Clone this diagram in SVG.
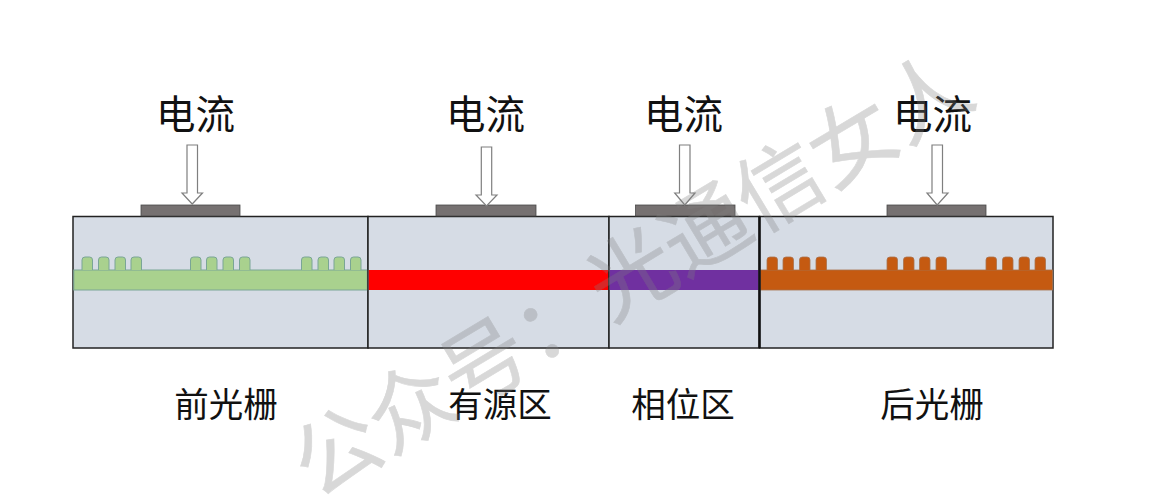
<svg xmlns="http://www.w3.org/2000/svg" width="1173" height="499" viewBox="0 0 1173 499">
<style>
text{font-family:"Microsoft YaHei","Noto Sans CJK SC","Noto Sans",sans-serif;fill:#111;text-anchor:middle}
.cur{font-size:39.500px}
.lab{font-size:34.500px}
.pad{fill:#767171;stroke:#4a4a4a;stroke-width:.8}
.sec{fill:#d6dce5;stroke:#222;stroke-width:1.5}
.arrow{fill:#fff;stroke:#7f7f7f;stroke-width:1.2}
.wm{font-size:86px;fill:#808080;stroke:#808080;stroke-width:.6px;opacity:.3}
.g{fill:#a9d18e;stroke:#7aa596;stroke-width:1}
.o{fill:#c55a11;stroke:#a9714c;stroke-width:.8}
</style>
<defs>
<path id="tg" class="g" d="M0 13V3Q0 0 3 0H7.500Q10.500 0 10.500 3V13"/>
<path id="to" class="o" d="M0 13V3Q0 0 3 0H7.500Q10.500 0 10.500 3V13"/>
</defs>
<rect width="1173" height="499" fill="#fff"/>
<g id="front-grating">
<rect class="sec" x="73" y="216.500" width="295" height="131.500"/>
<rect class="g" x="73.800" y="270" width="293.500" height="20"/>
<use href="#tg" x="82" y="257"/><use href="#tg" x="98.500" y="257"/><use href="#tg" x="115" y="257"/><use href="#tg" x="131" y="257"/>
<use href="#tg" x="190.500" y="257"/><use href="#tg" x="206.500" y="257"/><use href="#tg" x="223" y="257"/><use href="#tg" x="239.500" y="257"/>
<use href="#tg" x="301.500" y="257"/><use href="#tg" x="318" y="257"/><use href="#tg" x="334" y="257"/><use href="#tg" x="350.500" y="257"/>
<rect class="pad" x="141" y="205" width="99" height="11"/>
<text class="cur" x="195.500" y="129">电流</text>
<text class="lab" x="226" y="417">前光栅</text>
</g>
<g id="active-region">
<rect class="sec" x="368" y="216.500" width="241" height="131.500"/>
<rect x="368.800" y="270" width="239.500" height="20" fill="#ff0000"/>
<rect class="pad" x="436" y="205" width="100" height="11"/>
<text class="cur" x="485.500" y="129">电流</text>
<text class="lab" x="500" y="417">有源区</text>
</g>
<g id="phase-region">
<rect class="sec" x="609" y="216.500" width="150.500" height="131.500"/>
<rect x="609.800" y="270" width="149" height="20" fill="#7030a0"/>
<rect class="pad" x="635.500" y="205" width="99.500" height="11"/>
<text class="cur" x="683.500" y="129">电流</text>
<text class="lab" x="683" y="417">相位区</text>
</g>
<g id="rear-grating">
<rect class="sec" x="759.500" y="216.500" width="293.500" height="131.500"/>
<rect class="o" x="760.500" y="270" width="292" height="20"/>
<use href="#to" x="767" y="257"/><use href="#to" x="783" y="257"/><use href="#to" x="799.500" y="257"/><use href="#to" x="816" y="257"/>
<use href="#to" x="887" y="257"/><use href="#to" x="903.500" y="257"/><use href="#to" x="919.500" y="257"/><use href="#to" x="936" y="257"/>
<use href="#to" x="986" y="257"/><use href="#to" x="1002.500" y="257"/><use href="#to" x="1019" y="257"/><use href="#to" x="1035" y="257"/>
<rect class="pad" x="887" y="205" width="99" height="11"/>
<text class="cur" x="932.500" y="129">电流</text>
<text class="lab" x="932" y="417">后光栅</text>
</g>
<path d="M759.500 216.500V348" stroke="#111" stroke-width="2.500" fill="none"/>
<g id="connectors">
<path class="arrow" d="M187 145H197.500V193H202.500L192.200 204L182 193H187Z"/>
<path class="arrow" d="M481.300 147H491.700V195H497L486.500 206L476 195H481.300Z"/>
<path class="arrow" d="M679.500 145H690V193H695L684.800 205L674.700 193H679.500Z"/>
<path class="arrow" d="M932 145H942.500V193H948L937.200 205L927 193H932Z"/>
</g>
<g id="watermark">
<text class="wm" transform="translate(632 275) rotate(-31)" x="0" y="30">公众号：光通信女人</text>
</g>
</svg>
